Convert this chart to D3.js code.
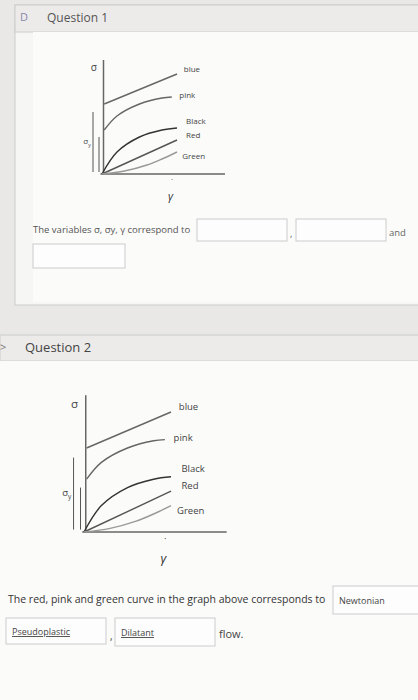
<!DOCTYPE html>
<html><head><meta charset="utf-8">
<script src="https://cdn.jsdelivr.net/npm/d3@7"></script>
<style>body{margin:0;background:#e9e8e6;font-family:"Open Sans",sans-serif}</style>
</head><body>
<svg id="page" width="418" height="700"></svg>
<script>
// curve data, x 0..10, y 0..10
const blue = [[0.3,7.0],[10,10]];
const pink = [[0.3,4.4],[2,5.8],[5,7.0],[8,7.6],[9.3,7.7]];
const black = [[0,0],[2,2.2],[5,3.7],[8,4.4],[10,4.6]];
const red = [[0,0],[10,3.4]];
const green = [[0,0],[3,0.3],[6,0.9],[8,1.5],[10,2.2]];
const curves = [blue, pink, black, red, green];
const curveColors = ["#666", "#666", "#333", "#555", "#999"];
const labels = ["blue", "pink", "Black", "Red", "Green"];
const labelY = [10.2, 7.6, 5.0, 3.6, 1.5];

const svg = d3.select("#page");

// panels
svg.append("rect").attr("x",15).attr("y",5).attr("width",410).attr("height",300).attr("fill","#f6f6f5").attr("stroke","#ccc");
svg.append("rect").attr("x",15).attr("y",5).attr("width",410).attr("height",27).attr("fill","#ecebea").attr("stroke","#ccc");
svg.append("rect").attr("x",33).attr("y",32).attr("width",390).attr("height",270).attr("fill","#fbfbfa");
svg.append("text").attr("x",47).attr("y",22).attr("font-size",12).attr("fill","#555").text("Question 1");
svg.append("text").attr("x",20).attr("y",21).attr("font-size",11).attr("fill","#88a").text("D");

svg.append("rect").attr("x",0).attr("y",335).attr("width",420).attr("height",26).attr("fill","#ecebea").attr("stroke","#ccc");
svg.append("rect").attr("x",0).attr("y",361).attr("width",420).attr("height",340).attr("fill","#fbfbfa");
svg.append("text").attr("x",25).attr("y",352).attr("font-size",13).attr("fill","#444").text("Question 2");
svg.append("text").attr("x",0).attr("y",351).attr("font-size",11).attr("fill","#777").text(">");

function graph(x0, y0, xPx, yPx, fs) {
  const x = d3.scaleLinear().domain([0,10]).range([x0, x0 + 10*xPx]);
  const y = d3.scaleLinear().domain([0,10]).range([y0, y0 - 10*yPx]);
  const g = svg.append("g");
  g.append("line").attr("x1",x(-0.2)).attr("y1",y(0)).attr("x2",x(16.4)).attr("y2",y(0)).attr("stroke","#666").attr("stroke-width",1.5);
  g.append("line").attr("x1",x(0.2)).attr("y1",y(0)).attr("x2",x(0.2)).attr("y2",y(11.4)).attr("stroke","#666").attr("stroke-width",1.5);
  const line = d3.line().x(d => x(d[0])).y(d => y(d[1])).curve(d3.curveCatmullRom);
  curves.forEach((c,i) => g.append("path").attr("d",line(c)).attr("fill","none").attr("stroke",curveColors[i]).attr("stroke-width",1.4));
  labels.forEach((t,i) => g.append("text").attr("x",x(i==2||i==3?11.2:i==1?10.3:i==4?10.7:10.9)).attr("y",y(labelY[i]))
    .attr("font-size",fs).attr("fill","#444").text(t));
  // sigma_y arrows
  [[-1.2,6.2],[-0.4,3.7]].forEach(a => g.append("line").attr("x1",x(a[0])).attr("x2",x(a[0])).attr("y1",y(0.2)).attr("y2",y(a[1]))
    .attr("stroke","#555").attr("stroke-width",1));
  g.append("text").attr("x",x(-1.5)).attr("y",y(10.3)).attr("font-size",fs+2).attr("fill","#444").text("σ");
  g.append("text").attr("x",x(-2.5)).attr("y",y(3.0)).attr("font-size",fs).attr("fill","#444").text("σ").append("tspan").attr("font-size",fs-3).attr("dy",3).text("y");
  g.append("text").attr("x",x(8.8)).attr("y",y(-2.6)).attr("font-size",fs+3).attr("font-style","italic").attr("fill","#333").text("γ");
  g.append("text").attr("x",x(9.2)).attr("y",y(-0.8)).attr("font-size",fs).attr("fill","#333").text("·");
}
graph(102,174,7.5,10,8);
graph(84,532,8.7,12,9.5);

function box(x0,y0,w,h,t,dotted){
  svg.append("rect").attr("x",x0).attr("y",y0).attr("width",w).attr("height",h).attr("fill","#fdfdfd").attr("stroke","#ccc");
  if(t){ const tx = svg.append("text").attr("x",x0+6).attr("y",y0+h/2+4).attr("font-size",9).attr("fill","#444").text(t);
    if(dotted) tx.attr("text-decoration","underline"); }
}
svg.append("text").attr("x",33).attr("y",233).attr("font-size",9.5).attr("fill","#555").text("The variables σ, σy, γ correspond to");
box(197,219,90,22); box(296,219,90,22);
svg.append("text").attr("x",290).attr("y",237).attr("font-size",9).attr("fill","#555").text(",");
svg.append("text").attr("x",389).attr("y",236).attr("font-size",9.5).attr("fill","#666").text("and");
box(33,244,92,24);

svg.append("text").attr("x",8).attr("y",603).attr("font-size",10.5).attr("fill","#333").text("The red, pink and green curve in the graph above corresponds to");
box(333,586,90,28,"Newtonian");
box(6,618,100,26,"Pseudoplastic",true);
svg.append("text").attr("x",110).attr("y",640).attr("font-size",10).attr("fill","#444").text(",");
box(115,618,100,28,"Dilatant",true);
svg.append("text").attr("x",219).attr("y",638).attr("font-size",11).attr("fill","#444").text("flow.");
</script>
</body></html>
